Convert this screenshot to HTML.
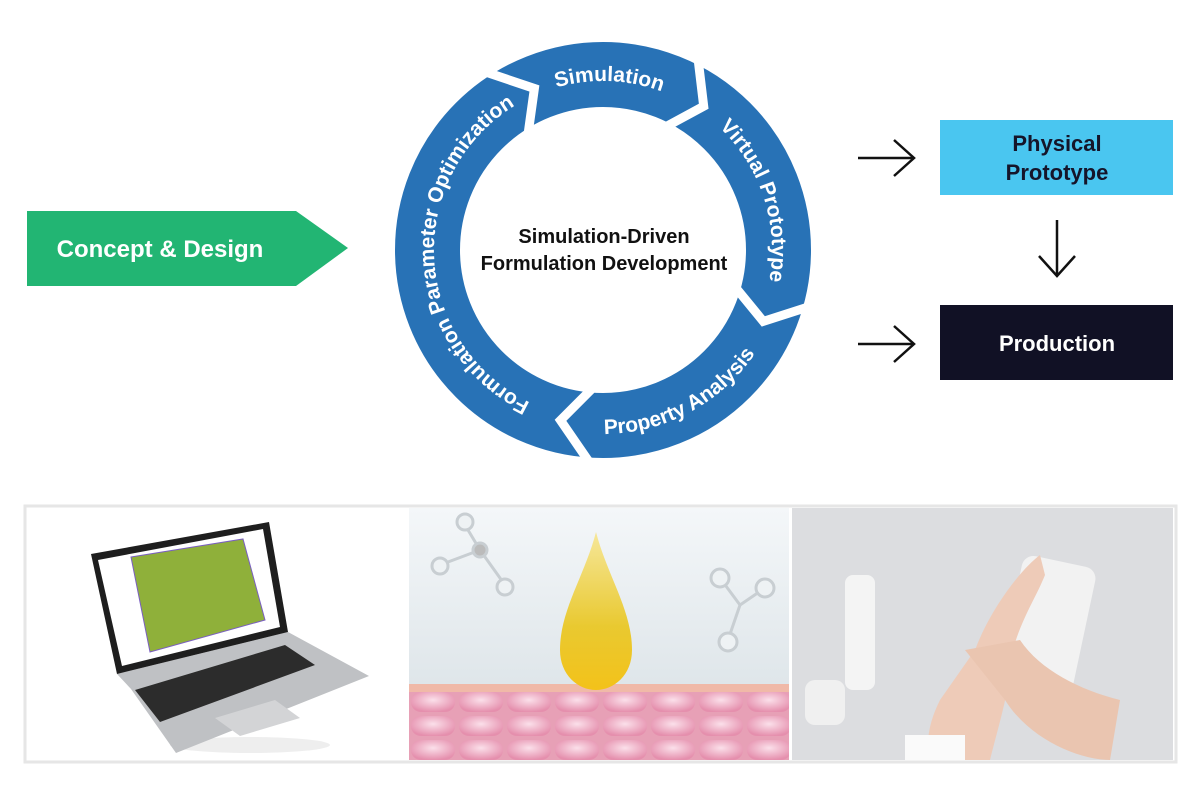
<!DOCTYPE html>
<html><head><meta charset="utf-8"><style>
html,body{margin:0;padding:0;background:#fff;}
body{width:1200px;height:786px;overflow:hidden;position:relative;font-family:"Liberation Sans",sans-serif;}
</style></head><body>
<svg width="1200" height="786" viewBox="0 0 1200 786" xmlns="http://www.w3.org/2000/svg" style="position:absolute;left:0;top:0">
<defs>
<path id="cw" d="M603,419 A169,169 0 1 1 603,81 A169,169 0 1 1 603,419"/>
<path id="ccw" d="M603,66 A184,184 0 1 0 603,434 A184,184 0 1 0 603,66"/>
<linearGradient id="drop" x1="0" y1="0" x2="0" y2="1"><stop offset="0" stop-color="#f6e79a"/><stop offset="0.6" stop-color="#e9c930"/><stop offset="1" stop-color="#f3c21a"/></linearGradient>
<linearGradient id="bg2" x1="0" y1="0" x2="0" y2="1"><stop offset="0" stop-color="#f4f7f9"/><stop offset="1" stop-color="#dfe6ea"/></linearGradient>
<radialGradient id="cell" cx="0.5" cy="0.4" r="0.6"><stop offset="0" stop-color="#fbe0ea"/><stop offset="1" stop-color="#e58fad"/></radialGradient>
<pattern id="cells" x="409" y="690" width="48" height="24" patternUnits="userSpaceOnUse"><rect width="48" height="24" fill="#e7a0b6"/><rect x="2" y="2" width="44" height="20" rx="10" fill="url(#cell)"/></pattern>
</defs>

<polygon points="27,211 296,211 348,248 296,286 27,286" fill="#22b573"/>
<text x="160" y="257" font-size="24" font-weight="bold" fill="#fff" text-anchor="middle">Concept &amp; Design</text>

<circle cx="603" cy="250" r="175.5" fill="none" stroke="#2872b6" stroke-width="65"/>
<g fill="none" stroke="#fff" stroke-width="9" stroke-linejoin="miter">
<polyline points="697.7,55.9 703.7,106.2 662.2,128.7"/>
<polyline points="811.6,305.9 763.3,321.4 733.4,284.9"/>
<polyline points="591.7,465.7 560.5,420.3 595.9,384.8"/>
<polyline points="482.2,70.9 534.4,88.5 527.5,138.1"/>
</g>
<g font-size="21" font-weight="bold" fill="#fff">
<text><textPath href="#cw" startOffset="50.6%" text-anchor="middle">Simulation</textPath></text>
<text><textPath href="#cw" startOffset="70%" text-anchor="middle">Virtual Prototype</textPath></text>
<text><textPath href="#cw" startOffset="24.2%" text-anchor="middle">Formulation Parameter Optimization</textPath></text>
<text><textPath href="#ccw" startOffset="57.8%" text-anchor="middle">Property Analysis</textPath></text>
</g>
<text x="604" y="243" font-size="20" font-weight="bold" fill="#111" text-anchor="middle">Simulation-Driven</text>
<text x="604" y="270" font-size="20" font-weight="bold" fill="#111" text-anchor="middle">Formulation Development</text>

<g fill="none" stroke="#111" stroke-width="2.5">
<line x1="858" y1="158" x2="914" y2="158"/><polyline points="894,140 914,158 894,176"/>
<line x1="858" y1="344" x2="914" y2="344"/><polyline points="894,326 914,344 894,362"/>
<line x1="1057" y1="220" x2="1057" y2="276"/><polyline points="1039,256 1057,276 1075,256"/>
</g>
<rect x="940" y="120" width="233" height="75" fill="#4ac6f0"/>
<text x="1057" y="151" font-size="22" font-weight="bold" fill="#15152a" text-anchor="middle">Physical</text>
<text x="1057" y="180" font-size="22" font-weight="bold" fill="#15152a" text-anchor="middle">Prototype</text>
<rect x="940" y="305" width="233" height="75" fill="#111125"/>
<text x="1057" y="351" font-size="22" font-weight="bold" fill="#fff" text-anchor="middle">Production</text>

<rect x="25" y="506" width="1151" height="256" fill="#fff" stroke="#e6e6e6" stroke-width="3"/>
<!-- laptop -->
<ellipse cx="250" cy="745" rx="80" ry="8" fill="#eee"/>
<polygon points="117,674 288,632 369,676 176,753 131,689" fill="#bfc1c4"/>
<polygon points="135,690 285,645 315,665 160,722" fill="#2c2c2c"/>
<polygon points="215,718 275,700 300,718 240,736" fill="#d3d4d6"/>
<polygon points="91,554 269,522 288,632 117,674" fill="#1e1e1e"/>
<polygon points="98,560 263,529 280,627 122,666" fill="#fff"/>
<polygon points="131,557 243,539 265,620 150,652" fill="#8fb03a" stroke="#7a5fc0" stroke-width="1"/>
<!-- middle -->
<rect x="409" y="508" width="380" height="176" fill="url(#bg2)"/>
<rect x="409" y="684" width="380" height="8" fill="#f0b9a8"/>
<rect x="409" y="692" width="380" height="68" fill="url(#cells)"/>
<path d="M596,532 C585,575 560,610 560,650 C560,675 578,690 596,690 C614,690 632,675 632,650 C632,610 607,575 596,532Z" fill="url(#drop)"/>
<g stroke="#c8ced2" stroke-width="3" fill="#eef2f4">
<line x1="480" y1="550" x2="465" y2="525"/><line x1="480" y1="550" x2="440" y2="565"/><line x1="480" y1="550" x2="505" y2="585"/>
<circle cx="465" cy="522" r="8"/><circle cx="440" cy="566" r="8"/><circle cx="505" cy="587" r="8"/><circle cx="480" cy="550" r="7" fill="#bbb"/>
<line x1="740" y1="605" x2="720" y2="578"/><line x1="740" y1="605" x2="765" y2="588"/><line x1="740" y1="605" x2="728" y2="640"/>
<circle cx="720" cy="578" r="9"/><circle cx="765" cy="588" r="9"/><circle cx="728" cy="642" r="9"/>
</g>
<!-- right -->
<rect x="792" y="508" width="381" height="252" fill="#dcdde0"/>
<rect x="845" y="575" width="30" height="115" rx="8" fill="#f4f4f4"/>
<rect x="1010" y="560" width="75" height="130" rx="12" fill="#f2f2f2" transform="rotate(12 1047 625)"/>
<rect x="805" y="680" width="40" height="45" rx="10" fill="#f0f0f0"/>
<path d="M1040,555 C1020,570 990,610 975,650 L940,700 C930,720 925,740 930,760 L990,760 C1000,720 1010,690 1010,660 C1020,620 1035,600 1045,575Z" fill="#eecbb8"/>
<path d="M965,650 L1005,700 C1030,740 1080,760 1110,760 L1120,700 C1080,690 1040,670 1020,640Z" fill="#eac5b0"/>
<rect x="905" y="735" width="60" height="25" fill="#fafafa"/>
</svg>
</body></html>
